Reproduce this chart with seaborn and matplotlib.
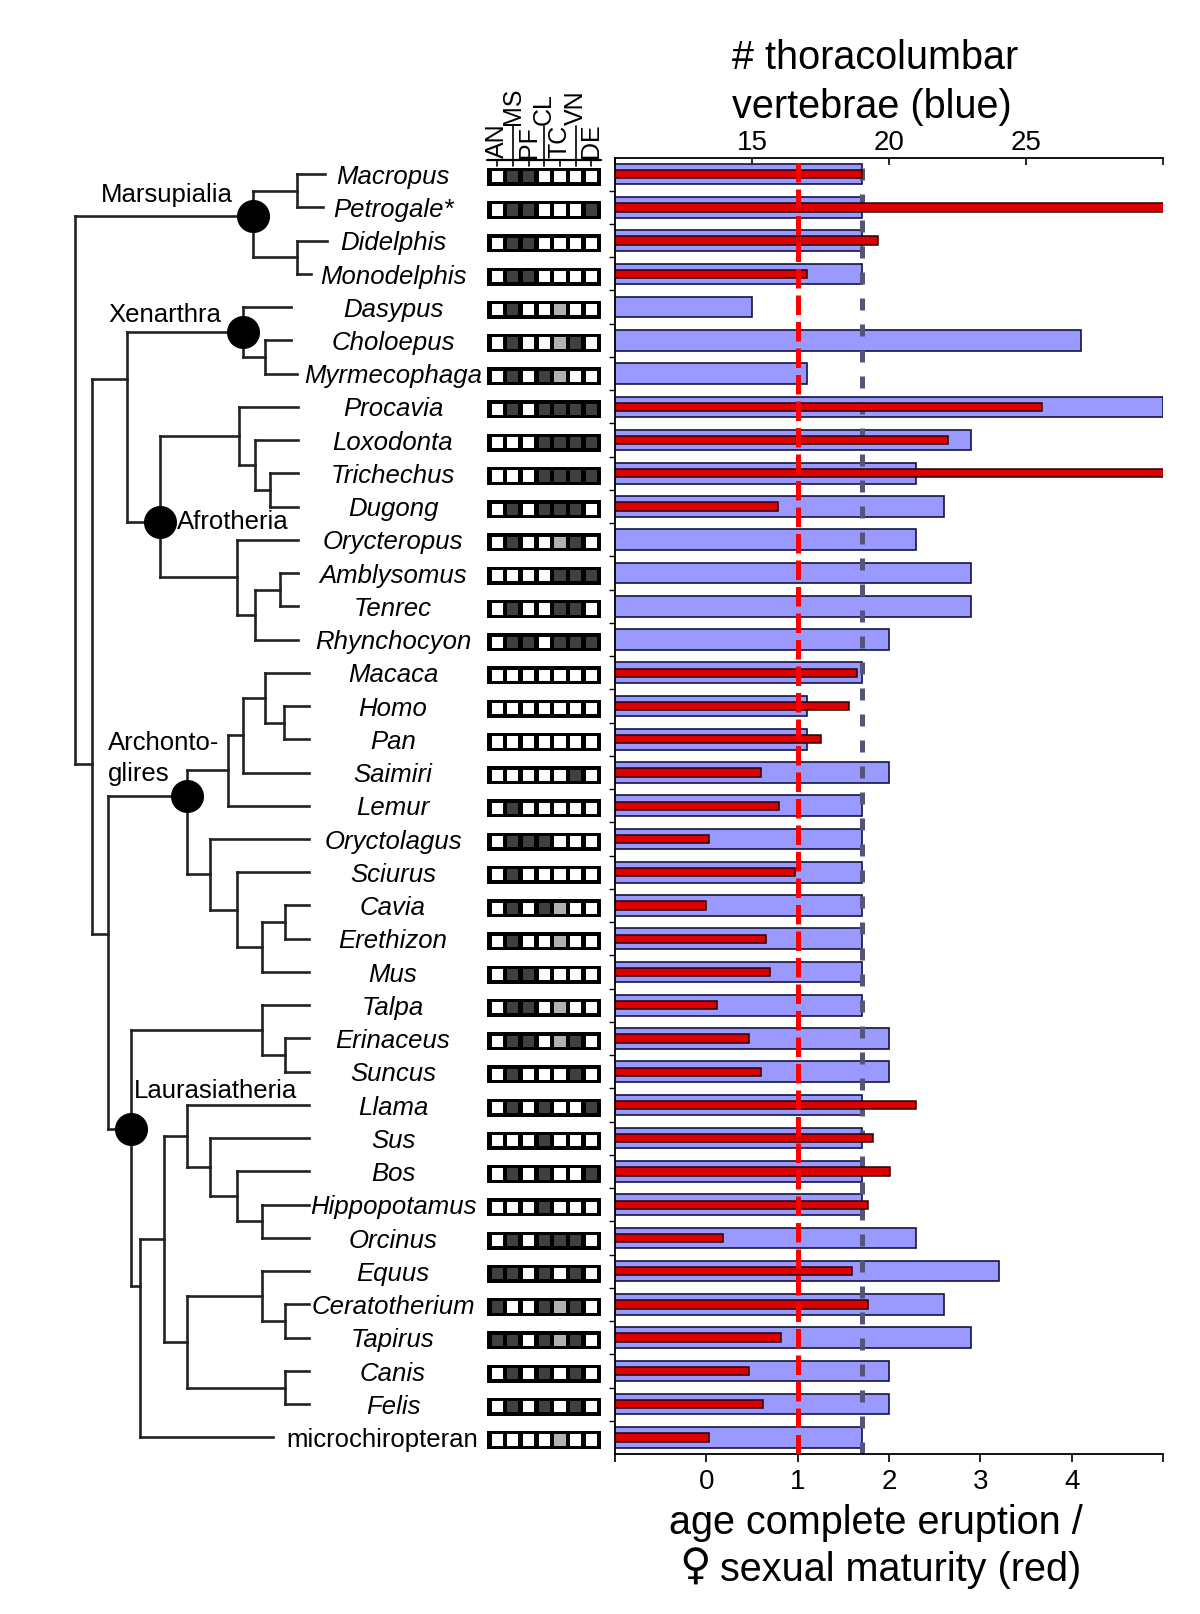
import numpy as np
import pandas as pd
import matplotlib
matplotlib.use("Agg")
import matplotlib.pyplot as plt
from matplotlib.patches import Rectangle
import seaborn as sns

nan = np.nan

species = ["Macropus", "Petrogale*", "Didelphis", "Monodelphis", "Dasypus", "Choloepus",
           "Myrmecophaga", "Procavia", "Loxodonta", "Trichechus", "Dugong", "Orycteropus",
           "Amblysomus", "Tenrec", "Rhynchocyon", "Macaca", "Homo", "Pan", "Saimiri", "Lemur",
           "Oryctolagus", "Sciurus", "Cavia", "Erethizon", "Mus", "Talpa", "Erinaceus", "Suncus",
           "Llama", "Sus", "Bos", "Hippopotamus", "Orcinus", "Equus", "Ceratotherium", "Tapirus",
           "Canis", "Felis", "microchiropteran"]

# thoracolumbar vertebrae count (blue, top axis)
vertebrae = [19, 19, 19, 19, 15, 27, 17, 30, 23, 21, 22, 21, 23, 23, 20, 19, 17, 17, 20, 19,
             19, 19, 19, 19, 19, 19, 20, 20, 19, 19, 19, 19, 21, 24, 22, 23, 20, 20, 19]

# age complete eruption / female sexual maturity (red, bottom axis)
eruption_ratio = [1.70, 5.5, 1.88, 1.10, nan, nan, nan, 3.67, 2.65, 5.5, 0.79, nan, nan, nan,
                  nan, 1.65, 1.56, 1.25, 0.60, 0.80, 0.03, 0.97, 0.00, 0.65, 0.70, 0.12, 0.47,
                  0.60, 2.30, 1.82, 2.01, 1.77, 0.18, 1.59, 1.77, 0.82, 0.47, 0.62, 0.03]

characters = ["AN", "MS", "PF", "CL", "TC", "VN", "DE"]
# 0 = white, 1 = dark, 2 = grey
states = ["0110000", "0110001", "0110000", "0110000", "0100200", "0100210", "0101200",
          "0101111", "0001111", "0001111", "0101110", "0100210", "0000111", "0100110",
          "0110111", "0000000", "0000000", "0000000", "0000010", "0100000", "0111000",
          "0100000", "0101200", "0100200", "0110000", "0110200", "0110210", "0100010",
          "0101001", "0001000", "0101001", "0001000", "0101110", "1101010", "1001210",
          "1101210", "0101010", "0101010", "0000200"]

blue_ref = 19
red_ref = 1

# tree: (node x in pixels, children, node name)
tree = (75, [
    (253, [(297, ["Macropus", "Petrogale*"]), (297, ["Didelphis", "Monodelphis"])], "Marsupialia"),
    (92, [
        (127, [
            (243, ["Dasypus", (265, ["Choloepus", "Myrmecophaga"])], "Xenarthra"),
            (160, [
                (239, ["Procavia", (255, ["Loxodonta", (270, ["Trichechus", "Dugong"])])]),
                (237, ["Orycteropus", (255, [(280, ["Amblysomus", "Tenrec"]), "Rhynchocyon"])]),
            ], "Afrotheria"),
        ], "Atlantogenata"),
        (108, [
            (187, [
                (228, [(243, [(265, ["Macaca", (284, ["Homo", "Pan"])]), "Saimiri"]), "Lemur"]),
                (210, ["Oryctolagus", (237, ["Sciurus", (262, [(285, ["Cavia", "Erethizon"]), "Mus"])])]),
            ], "Archontoglires"),
            (131, [
                (262, ["Talpa", (285, ["Erinaceus", "Suncus"])]),
                (140, [
                    (164, [
                        (187, ["Llama", (210, ["Sus", (237, ["Bos", (262, ["Hippopotamus", "Orcinus"])])])]),
                        (187, [(262, ["Equus", (285, ["Ceratotherium", "Tapirus"])]),
                               (285, ["Canis", "Felis"])]),
                    ]),
                    "microchiropteran",
                ], "Scrotifera"),
            ], "Laurasiatheria"),
        ], "Boreoeutheria"),
    ], "Placentalia"),
])

# where the parent branch joins a node (row units), as drawn in the figure
join_row = {"Marsupialia": 1.26, "Atlantogenata": 6.15, "Afrotheria": 10.46,
            "Placentalia": 17.73, "Archontoglires": 18.72, "Boreoeutheria": 22.87,
            "Laurasiatheria": 28.72, "Scrotifera": 33.46}
circled = ["Marsupialia", "Xenarthra", "Afrotheria", "Archontoglires", "Laurasiatheria"]

tip_end = {"Macropus": 325, "Petrogale*": 323, "Didelphis": 327, "Monodelphis": 311,
           "Dasypus": 291, "Choloepus": 291, "Myrmecophaga": 297, "microchiropteran": 273}
for s in species[7:15]:
    tip_end[s] = 298

sns.set_style("white")
plt.rcParams["font.family"] = ["Liberation Sans", "DejaVu Sans"]
plt.rcParams.update({"text.color": "black", "axes.labelcolor": "black",
                     "xtick.color": "black", "ytick.color": "black"})

W, H = 1200, 1614
AX_L, AX_R, AX_T, AX_B = 615, 1163, 157.5, 1454
n = len(species)
row_h = (AX_B - AX_T) / n
rect = [AX_L / W, 1 - AX_B / H, (AX_R - AX_L) / W, (AX_B - AX_T) / H]


def px_row(y):
    return (y - AX_T) / row_h - 0.5


fig = plt.figure(figsize=(W / 100, H / 100), dpi=100)
ax_red = fig.add_axes(rect)
ax_blue = ax_red.twiny()

df = pd.DataFrame({"species": species, "vertebrae": vertebrae, "ratio": eruption_ratio})
red_min, red_max = -1, 5
blue_min, blue_max = 10, 30

sns.barplot(data=df, x="vertebrae", y="species", orient="h", ax=ax_blue, width=0.62,
            color="#9999ff", saturation=1, errorbar=None, edgecolor="#14143c", linewidth=1.2)
df["ratio_len"] = df["ratio"] - red_min
sns.barplot(data=df, x="ratio_len", y="species", orient="h", ax=ax_red, width=0.25,
            color="#dd0000", saturation=1, errorbar=None, edgecolor="#2a0000", linewidth=1.1,
            left=red_min)

ax_blue.axvline(blue_ref, color="#55557a", lw=3.6, ls=(0, (2.4, 2.8)), zorder=5)
ax_red.axvline(red_ref, color="#ff0000", lw=3.6, ls=(0, (3.9, 1.4)), zorder=6)

ax_red.set_zorder(ax_blue.get_zorder() + 1)
ax_red.patch.set_visible(False)
ax_blue.patch.set_visible(False)

ax_blue.set_xlim(blue_min, blue_max)
ax_red.set_xlim(red_min, red_max)
ax_red.set_ylim(n - 0.5, -0.5)

ax_blue.set_xticks([10, 15, 20, 25, 30], ["", "15", "20", "25", ""])
ax_red.set_xticks(range(-1, 6), ["", "0", "1", "2", "3", "4", ""])
ax_red.set_yticks(np.arange(n - 1) + 0.5, [""] * (n - 1))
ax_red.tick_params(axis="x", direction="out", length=6, width=1.2, labelsize=20, pad=5)
ax_red.tick_params(axis="y", direction="out", length=4, width=1.0, left=True)
ax_blue.tick_params(axis="x", direction="in", length=5, width=1.2, labelsize=20, pad=1)
for a in (ax_red, ax_blue):
    a.set_xlabel("")
    a.set_ylabel("")
    a.spines["right"].set_visible(False)
    for sp in ("left", "top", "bottom"):
        a.spines[sp].set_color("black")
        a.spines[sp].set_linewidth(1.3)
ax_blue.spines["left"].set_visible(False)
ax_blue.spines["bottom"].set_visible(False)
ax_red.spines["top"].set_visible(False)

fig.text(732 / W, 1 - 58 / H, "# thoracolumbar", fontsize=28.5, ha="left", va="center")
fig.text(732 / W, 1 - 107 / H, "vertebrae (blue)", fontsize=28.5, ha="left", va="center")
fig.text(876 / W, 1 - 1523 / H, "age complete eruption /", fontsize=28.5, ha="center", va="center")
fig.text(695 / W, 1 - 1568 / H, "\u2640", fontsize=31, ha="center", va="center",
         family=["DejaVu Sans"])
fig.text(720 / W, 1 - 1570 / H, "sexual maturity (red)", fontsize=28.5, ha="left", va="center")

# tree, names and character strips
ax_t = fig.add_axes([0, rect[1], 1, rect[3]])
ax_t.set_xlim(0, W)
ax_t.set_ylim(n - 0.5, -0.5)
ax_t.axis("off")
ax_t.patch.set_visible(False)

tree_kw = dict(color="#222222", lw=1.9, solid_capstyle="projecting", clip_on=False)
nodes = []


def child_x(node):
    return tip_end.get(node, 309) if isinstance(node, str) else node[0]


def draw_clade(node):
    if isinstance(node, str):
        return float(species.index(node))
    x, kids = node[0], node[1]
    name = node[2] if len(node) > 2 else None
    ys = [draw_clade(k) for k in kids]
    for k, yk in zip(kids, ys):
        ax_t.plot([x, child_x(k)], [yk, yk], **tree_kw)
    ax_t.plot([x, x], [min(ys), max(ys)], **tree_kw)
    y = join_row.get(name, (min(ys) + max(ys)) / 2)
    if name:
        nodes.append((name, x, y))
    return y


draw_clade(tree)

marks = [(x, y) for name, x, y in nodes if name in circled]
ax_t.scatter([m[0] for m in marks], [m[1] for m in marks], s=520, color="black",
             zorder=5, clip_on=False)
lab_kw = dict(fontsize=18.5, va="center", clip_on=False)
for name, x, y in nodes:
    if name == "Marsupialia":
        ax_t.text(x - 20, y - 0.62, name, ha="right", **lab_kw)
    elif name == "Xenarthra":
        ax_t.text(x - 22, y - 0.5, name, ha="right", **lab_kw)
    elif name == "Afrotheria":
        ax_t.text(x + 17, y, name, ha="left", **lab_kw)
    elif name == "Archontoglires":
        ax_t.text(108, y - 1.61, "Archonto-", ha="left", **lab_kw)
        ax_t.text(108, y - 0.68, "glires", ha="left", **lab_kw)
    elif name == "Laurasiatheria":
        ax_t.text(x + 3, y - 1.15, name, ha="left", **lab_kw)

for i, s in enumerate(species):
    if s == "microchiropteran":
        ax_t.text(382, i + 0.08, s, ha="center", va="center", fontsize=18.5)
    else:
        ax_t.text(393, i + 0.08, s, ha="center", va="center", fontsize=18.5, style="italic")

x0, pitch, gap = 487, 15.7, 4.5
cell = pitch - gap
strip_h = 18 / row_h
cell_h = cell / row_h
fills = {"0": "white", "1": "#404040", "2": "#b0b0b0"}
for i, row in enumerate(states):
    yc = i + 0.08
    ax_t.add_patch(Rectangle((x0, yc - strip_h / 2), 7 * pitch + gap, strip_h,
                             facecolor="black", edgecolor="none"))
    for k, st in enumerate(row):
        ax_t.add_patch(Rectangle((x0 + gap + k * pitch, yc - cell_h / 2), cell, cell_h,
                                 facecolor=fills[st], edgecolor="none"))

# character header
y_line = px_row(160)
ax_t.plot([x0, x0 + 7 * pitch + gap], [y_line, y_line], color="black", lw=1.6, clip_on=False)
for k, c in enumerate(characters):
    xc = x0 + gap + k * pitch + cell / 2
    ax_t.plot([xc, xc], [y_line, px_row(166)], color="black", lw=1.2, clip_on=False)
    if k % 2:
        ax_t.plot([xc, xc], [px_row(126), y_line], color="black", lw=1.2, clip_on=False)
        yb = px_row(125)
    else:
        yb = px_row(158)
    ax_t.text(xc, yb, c, rotation=90, ha="center", va="bottom", fontsize=18, clip_on=False)

fig.savefig("out.png", dpi=100)
